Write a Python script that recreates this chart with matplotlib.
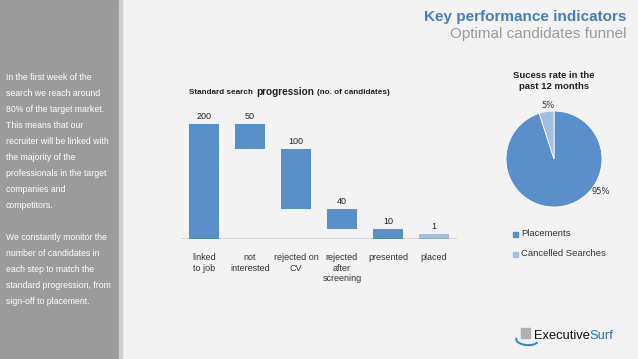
import matplotlib
matplotlib.use("Agg")
import numpy as np
from matplotlib import pyplot as plt
from matplotlib.patches import Rectangle, Arc

# waterfall data
steps = ["linked\nto job", "not\ninterested", "rejected on\nCV", "rejected\nafter\nscreening", "presented", "placed"]
step_labels = ["200", "50", "100", "40", "10", "1"]
# bar extents as drawn (candidates)
bar_top = [200, 200, 156, 52, 17, 9]
bar_bottom = [0, 156, 52, 17, 0, 0]

# pie data
pie_names = ["Placements", "Cancelled Searches"]
pie_share = [95, 5]

side_text = [
    "In the first week of the",
    "search we reach around",
    "80% of the target market.",
    "This means that our",
    "recruiter will be linked with",
    "the majority of the",
    "professionals in the target",
    "companies and",
    "competitors.",
    "",
    "We constantly monitor the",
    "number of candidates in",
    "each step to match the",
    "standard progression, from",
    "sign-off to placement.",
]

W, H = 638, 359
blue = "#5b8fc9"
light_blue = "#a3bfe0"
FONT = "Liberation Sans"

fig = plt.figure(figsize=(W / 100, H / 100), dpi=100)
fig.patch.set_facecolor("#f3f3f3")
renderer = fig.canvas.get_renderer()


def fx(px):
    return px / W


def fy(py):
    return 1 - py / H


def chain(x0, y0, parts, gap=0.0):
    # put text pieces one after another on one line
    xpos = x0
    for txt, kw in parts:
        t = fig.text(fx(xpos), fy(y0), txt, va="center", ha="left", family=FONT, **kw)
        xpos += t.get_window_extent(renderer).width + gap


# left grey panel
fig.patches.append(Rectangle((0, 0), fx(119), 1, transform=fig.transFigure, color="#9b9b9b", zorder=0))
fig.patches.append(Rectangle((fx(119), 0), fx(3), 1, transform=fig.transFigure, color="#cfcfcf", zorder=0))
for i, line in enumerate(side_text):
    fig.text(fx(6), fy(78 + 16 * i), line, color="white", fontsize=6.3,
             va="center", ha="left", family=FONT)

# heading
fig.text(fx(626), fy(17), "Key performance indicators", color="#4a7dbd", fontsize=11,
         fontweight="bold", ha="right", va="center", family=FONT)
fig.text(fx(626), fy(34), "Optimal candidates funnel", color="#9a9a9a", fontsize=11,
         ha="right", va="center", family=FONT)

# waterfall
ax = fig.add_axes([fx(181), fy(239), fx(457) - fx(181), (239 - 124) / H])
ax.set_facecolor("none")
x = np.arange(len(steps))
heights = np.array(bar_top) - np.array(bar_bottom)
colors = [blue] * (len(steps) - 1) + [light_blue]
ax.bar(x, heights, bottom=bar_bottom, width=0.65, color=colors, zorder=2)
for xi, top, lab in zip(x, bar_top, step_labels):
    ax.text(xi, top + 5, lab, ha="center", va="bottom", fontsize=6.5, color="#222222",
            family=FONT, clip_on=False)
for xi, name in zip(x, steps):
    ax.text(xi, -24, name, ha="center", va="top", fontsize=6.5, color="#333333",
            family=FONT, linespacing=1.25, clip_on=False)
ax.set_xlim(-0.5, len(steps) - 0.5)
ax.set_ylim(0, 200)
ax.axhline(0, color="#555555", lw=1, zorder=3)
ax.axis("off")

bold = dict(fontweight="bold", color="#222222")
chain(189, 92, [("Standard search", dict(fontsize=5.9, **bold)),
                ("progression", dict(fontsize=7.2, **bold)),
                ("(no. of candidates)", dict(fontsize=5.9, **bold))], gap=3)

# pie
pax = fig.add_axes([fx(554 - 60), fy(159 + 60), fx(120), 120 / H])
pax.pie(pie_share, colors=[blue, light_blue], startangle=90, counterclock=False,
        wedgeprops=dict(edgecolor="white", linewidth=0.6))
pax.set_aspect("equal")
fig.text(fx(554), fy(81), "Sucess rate in the\npast 12 months", ha="center", va="center",
         fontsize=6.8, fontweight="bold", color="#222222", family=FONT, linespacing=1.3)
fig.text(fx(548), fy(106), "5%", ha="center", va="center", fontsize=6, color="#333333")
fig.text(fx(601), fy(192), "95%", ha="center", va="center", fontsize=6, color="#333333")

for i, (name, c) in enumerate(zip(pie_names, [blue, light_blue])):
    yy = 234 + 20 * i
    fig.patches.append(Rectangle((fx(513), fy(yy + 2.5)), fx(5), 5 / H,
                                 transform=fig.transFigure, color=c))
    fig.text(fx(521), fy(yy), name, fontsize=6.8, va="center", color="#333333", family=FONT)

# logo
fig.patches.append(Arc((fx(527), fy(340)), fx(22), 10 / H, angle=-20, theta1=180, theta2=360,
                       transform=fig.transFigure, color="#2a8fd0", lw=1.5))
fig.patches.append(Rectangle((fx(521), fy(338)), fx(9), 10 / H, angle=0,
                             transform=fig.transFigure, color="#b0b0b0"))
chain(534, 336, [("Executive", dict(fontsize=9.3, color="#111111")),
                 ("Surf", dict(fontsize=9.3, color="#2a6fc0"))], gap=0)

fig.savefig("out.png", dpi=100, facecolor=fig.get_facecolor())
